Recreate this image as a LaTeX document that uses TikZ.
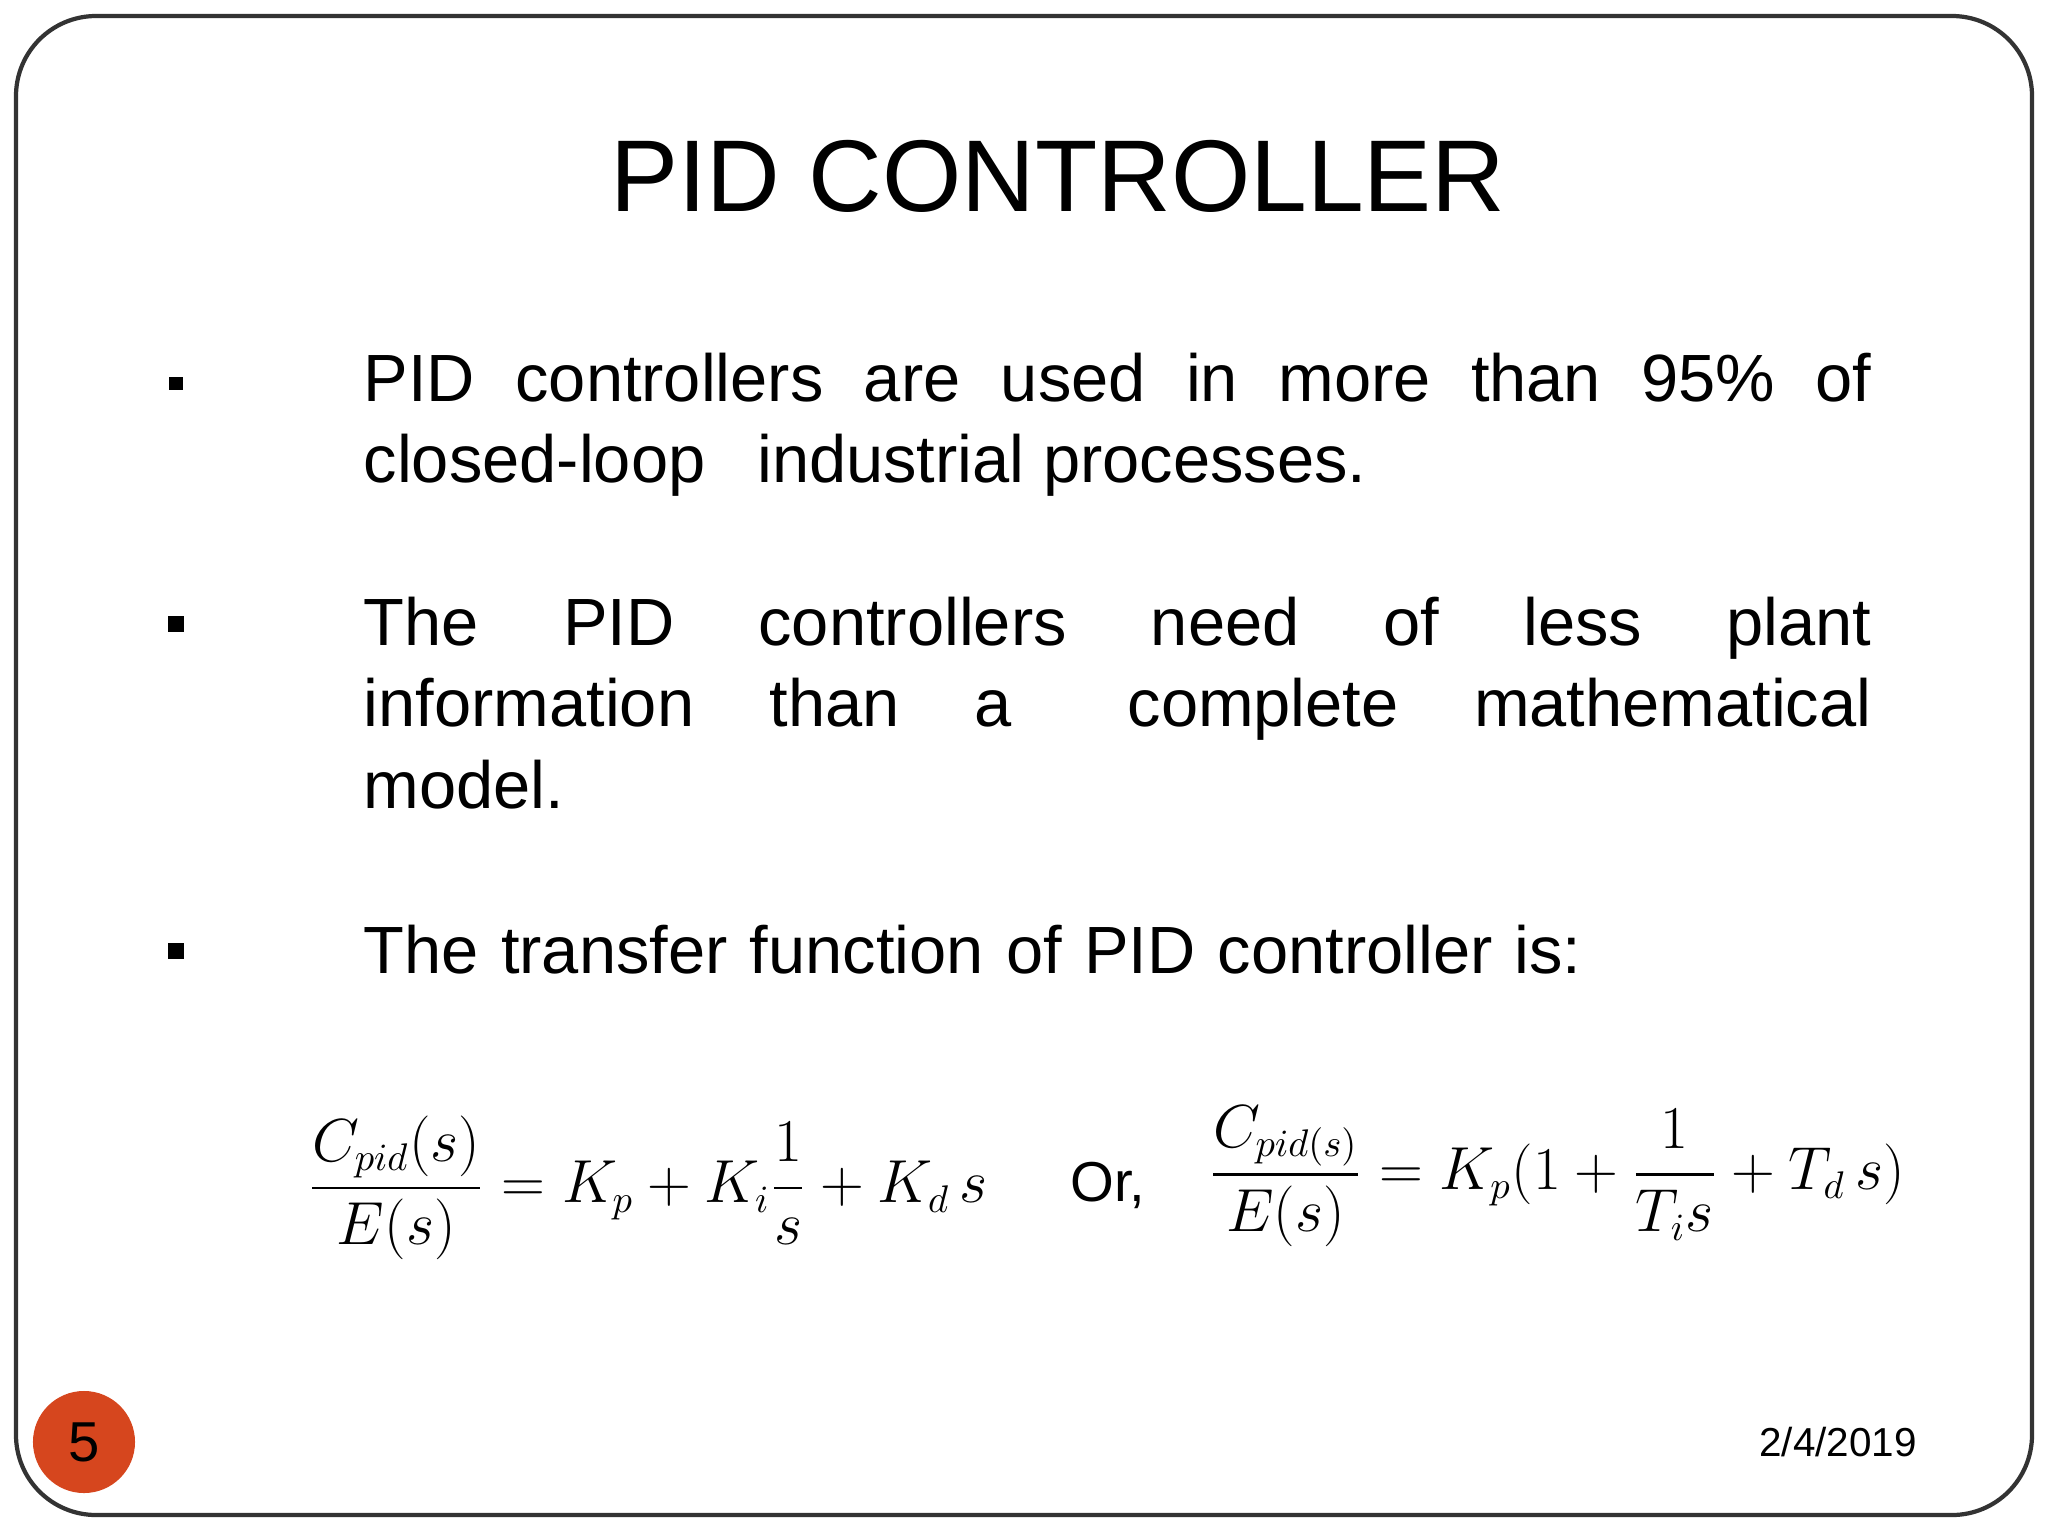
\documentclass[tikz,border=0pt]{standalone}
\usepackage{fontspec}
\setmainfont{Liberation Sans}
\usepackage{amsmath}
\hyphenpenalty=10000
\exhyphenpenalty=10000
\begin{document}
\begin{tikzpicture}[x=0.01cm,y=-0.01cm,
  bodytext/.style={anchor=north west,inner sep=0,text width=15.07cm,align=justify,font=\fontsize{19}{23.2}\selectfont},
  bul/.style={fill=black,minimum size=0.16cm,inner sep=0}]
\useasboundingbox (0,0) rectangle (2048,1536);
\draw[line width=1.2pt,rounded corners=0.8cm,black!80] (16,16) rectangle (2032,1515);
\node[font=\fontsize{29}{34}\selectfont,inner sep=0] (title) at (1058,176) {PID CONTROLLER};
\node[bul,minimum size=0.13cm] (b1) at (176,383) {};
\node[bul] (b2) at (176,624) {};
\node[bul] (b3) at (176,951) {};
\node[bodytext] (t1) at (363,352) {PID controllers are used in more than 95\% of\linebreak closed-loop\hspace{0.5em} industrial processes.};
\node[bodytext] (t2) at (363,596) {The PID controllers need of less plant\linebreak information than a\hspace{0.6em} complete mathematical\linebreak model.};
\node[bodytext,align=left] (t3) at (363,924) {The transfer function of PID controller is:};
\node[inner sep=0,font=\fontsize{16}{19}\selectfont] (e1) at (648,1188) {$\dfrac{C_{pid}(s)}{E(s)} = K_p + K_i\dfrac{1}{s} + K_d\, s$};
\node[inner sep=0,font=\fontsize{16}{19}\selectfont] (or) at (1108,1185) {Or,};
\node[inner sep=0,font=\fontsize{16}{19}\selectfont] (e2) at (1557,1176) {$\dfrac{C_{pid(s)}}{E(s)} = K_p(1 + \dfrac{1}{T_i s} + T_d\, s)$};
\node[circle,fill={rgb,255:red,214;green,70;blue,30},minimum size=1.02cm,inner sep=0,font=\fontsize{16}{19}\selectfont] (num) at (84,1442) {5};
\node[inner sep=0,font=\fontsize{11.5}{14}\selectfont] (date) at (1838,1442) {2/4/2019};
\end{tikzpicture}
\end{document}
